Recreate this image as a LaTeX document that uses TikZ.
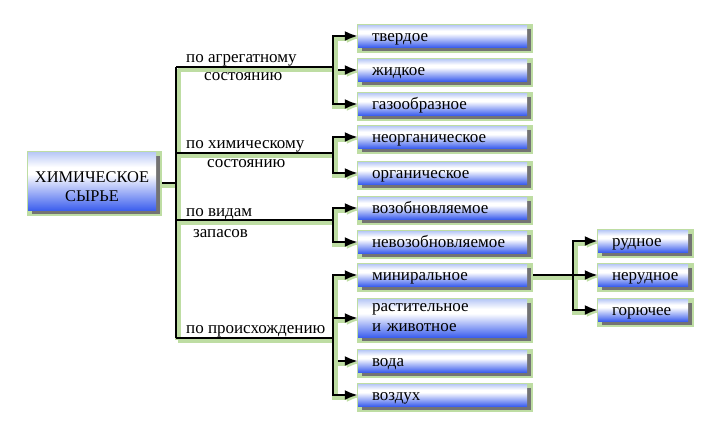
\documentclass[tikz,border=0pt]{standalone}
\usepackage{fontspec}
\setmainfont{Liberation Serif}
\usetikzlibrary{positioning}
\usetikzlibrary{arrows.meta}
\usetikzlibrary{backgrounds}
\definecolor{GLOW}{HTML}{BEDDA3}
\definecolor{BLUE_T}{HTML}{B8C8F6}
\definecolor{BLUE_B}{HTML}{3E60EE}
\pgfdeclareverticalshading{boxgrad}{100bp}{color(0bp)=(BLUE_B); color(25bp)=(BLUE_B); color(56bp)=(white); color(62bp)=(white); color(75bp)=(BLUE_T); color(100bp)=(BLUE_T)}
\tikzset{
	every node/.style = {font=\fontsize{17}{20}\selectfont},
	box/.style = {rectangle, shading=boxgrad,
		preaction={fill=GLOW, draw=GLOW, line width=7pt, transform canvas={xshift=2pt, yshift=-2pt}},
		preaction={fill=black!55, transform canvas={xshift=3.5pt, yshift=-3.5pt}},
		minimum height=22pt, inner xsep=14pt, inner ysep=1.5pt, align=left},
	item/.style = {box, text width=141pt, text height=15pt, text depth=4pt},
	sub/.style = {box, text width=62pt, text height=15pt, text depth=4pt},
	lbl/.style = {anchor=base west, inner sep=0pt},
	wire/.style = {line width=2.3pt, preaction={draw=GLOW, line width=6.5pt, transform canvas={xshift=2pt, yshift=-2pt}}},
	arr/.style = {wire, -{Latex[length=13pt, width=10pt]}}
}

\begin{document}
\begin{tikzpicture}[x=1pt, y=-1pt]
		\useasboundingbox (0,0) rectangle (726,429);
		
		% root
		\node[box, minimum width=128pt, minimum height=58pt, inner xsep=2pt, align=center, font=\fontsize{16.4}{19}\selectfont] (syr) at (92,181) {\\[3pt]ХИМИЧЕСКОЕ\\СЫРЬЕ};
		
		% first column
		\node[item] (tv) at (442.5,36) {твердое};
		\node[item] (zh) at (442.5,70) {жидкое};
		\node[item] (gaz) at (442.5,104) {газообразное};
		\node[item] (neorg) at (442.5,137) {неорганическое};
		\node[item] (org) at (442.5,173) {органическое};
		\node[item] (voz) at (442.5,208) {возобновляемое};
		\node[item] (nevoz) at (442.5,242) {невозобновляемое};
		\node[item] (min) at (442.5,275) {миниральное};
		\node[item, text height={}, text depth={}, minimum height=38pt] (rast) at (442.5,318) {растительное\\и животное};
		\node[item] (voda) at (442.5,361) {вода};
		\node[item] (vozd) at (442.5,395) {воздух};
		
		% second column
		\node[sub] (rud) at (643,241) {рудное};
		\node[sub] (nerud) at (643,275) {нерудное};
		\node[sub] (gor) at (643,310) {горючее};
		
		% labels
		\node[lbl] (agr1) at (186,62) {по агрегатному};
		\node[lbl] (agr2) at (204,80) {состоянию};
		\node[lbl] (him1) at (186,148) {по химическому};
		\node[lbl] (him2) at (207,167) {состоянию};
		\node[lbl] (vid1) at (186,216) {по видам};
		\node[lbl] (vid2) at (193,237) {запасов};
		\node[lbl] (pro1) at (186,333) {по происхождению};
		
		% junctions
		\coordinate (t0) at (176,183);
		\coordinate (t1) at (176,67);
		\coordinate (t2) at (176,153);
		\coordinate (t3) at (176,220);
		\coordinate (t4) at (176,338);
		\coordinate (j1) at (333,67);
		\coordinate (j2) at (333,153);
		\coordinate (j3) at (333,220);
		\coordinate (j4) at (333,338);
		\coordinate (j5) at (573,275);
		
		\begin{scope}[on background layer]
			\draw[wire] (syr.east |- t0) -- (t0);
			\draw[wire] (t1) -- (t4);
			\draw[wire] (t1) -- (j1);
			\draw[wire] (t2) -- (j2);
			\draw[wire] (t3) -- (j3);
			\draw[wire] (t4) -- (j4);
			\draw[wire] (min.east) -- (j5);
			
			\foreach \b in {tv, zh, gaz} \draw[arr] (j1) |- (\b.west);
			\foreach \b in {neorg, org} \draw[arr] (j2) |- (\b.west);
			\foreach \b in {voz, nevoz} \draw[arr] (j3) |- (\b.west);
			\foreach \b in {min, rast, voda, vozd} \draw[arr] (j4) |- (\b.west);
			\foreach \b in {rud, nerud, gor} \draw[arr] (j5) |- (\b.west);
		\end{scope}
	\end{tikzpicture}
\end{document}
